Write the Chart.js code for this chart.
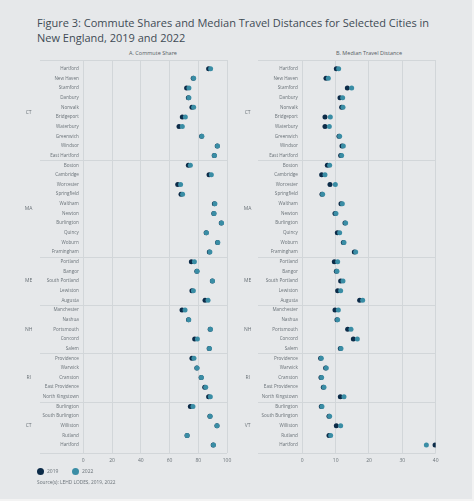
<!DOCTYPE html>
<html>
<head>
<meta charset="utf-8">
<script src="https://cdn.jsdelivr.net/npm/chart.js@4.4.1/dist/chart.umd.min.js"></script>
<style>
  body { margin: 0; width: 474px; height: 501px; background: #f3f3f3; font-family: 'Open Sans', sans-serif; overflow: hidden; }
  #fig { position: absolute; left: 0; top: 0; width: 472px; height: 499px; background: #e6e8ea; }
  #title { position: absolute; left: 37px; top: 15px; font-size: 11px; line-height: 15px; color: #3f4b55; white-space: nowrap; }
  .panel-title { position: absolute; top: 49px; font-size: 5.5px; color: #555d64; transform: translateX(-50%); white-space: nowrap; }
  canvas { position: absolute; }
  #legend { position: absolute; left: 37px; top: 467px; font-size: 5px; color: #6a7278; }
  .item { position: absolute; top: 0; white-space: nowrap; line-height: 8px; }
  .dot { display: inline-block; width: 7px; height: 7px; border-radius: 50%; vertical-align: middle; margin-right: 3px; }
  #source { position: absolute; left: 37px; top: 479px; font-size: 4.8px; color: #6a7278; }
</style>
</head>
<body>
<div id="fig">
  <div id="title">Figure 3: Commute Shares and Median Travel Distances for Selected Cities in<br>New England, 2019 and 2022</div>
  <div class="panel-title" style="left:153px">A. Commute Share</div>
  <div class="panel-title" style="left:369px">B. Median Travel Distance</div>
  <div style="position:absolute;left:22px;top:40px;width:218px;height:430px"><canvas id="shareChart"></canvas></div>
  <div style="position:absolute;left:241px;top:40px;width:207px;height:430px"><canvas id="distChart"></canvas></div>
  <div id="legend">
    <span class="item" style="left:0"><span class="dot" style="background:#0c2b48"></span>2019</span>
    <span class="item" style="left:35px"><span class="dot" style="background:#3a8da5"></span>2022</span>
  </div>
  <div id="source">Source(s): LEHD LODES, 2019, 2022</div>
</div>
<script>
const cities = [
    'Hartford', 'New Haven', 'Stamford', 'Danbury', 'Norwalk', 'Bridgeport', 'Waterbury', 'Greenwich', 'Windsor', 'East Hartford',
    'Boston', 'Cambridge', 'Worcester', 'Springfield', 'Waltham', 'Newton', 'Burlington', 'Quincy', 'Woburn', 'Framingham',
    'Portland', 'Bangor', 'South Portland', 'Lewiston', 'Augusta',
    'Manchester', 'Nashua', 'Portsmouth', 'Concord', 'Salem',
    'Providence', 'Warwick', 'Cranston', 'East Providence', 'North Kingstown',
    'Burlington', 'South Burlington', 'Williston', 'Rutland', 'Hartford'
];
const groupSizes = [10, 10, 5, 5, 5, 5];
// the left panel labels the Vermont group "CT", as in the original
const statesA = ['CT', 'MA', 'ME', 'NH', 'RI', 'CT'];
const statesB = ['CT', 'MA', 'ME', 'NH', 'RI', 'VT'];

// commute share (%)
const share2019 = [
    87.2, 76.5, 71.9, 73.1, 75.6, 68.9, 66.6, 82.3, 93.2, 91.1,
    73.1, 87.5, 65.7, 68.0, 91.2, 90.8, 96.0, 85.5, 93.4, 87.7,
    75.2, 79.0, 89.8, 75.6, 84.7,
    68.7, 73.2, 88.3, 77.5, 87.6,
    75.6, 79.0, 82.0, 84.5, 87.2,
    74.5, 88.1, 93.0, 72.2, 90.4
];
const share2022 = [
    88.6, 76.8, 73.5, 73.5, 76.8, 71.0, 68.9, 82.5, 93.4, 91.3,
    74.5, 89.1, 67.7, 69.1, 91.6, 91.0, 96.2, 85.7, 93.6, 88.1,
    77.3, 79.2, 89.9, 76.6, 86.8,
    70.8, 73.4, 88.5, 79.4, 87.8,
    77.0, 79.2, 82.2, 85.2, 88.4,
    76.3, 88.3, 93.1, 72.3, 90.6
];
// median travel distance (miles)
const dist2019 = [
    10.2, 7.1, 13.5, 11.3, 11.8, 6.8, 6.8, 11.0, 11.9, 11.5,
    7.5, 5.8, 8.3, 5.9, 11.6, 9.8, 12.8, 10.5, 12.3, 15.6,
    9.6, 10.2, 11.5, 10.6, 17.2,
    9.8, 10.4, 13.6, 15.3, 11.4,
    5.5, 7.0, 5.6, 6.3, 11.4,
    5.7, 8.0, 10.2, 8.0, 39.8
];
const dist2022 = [
    10.9, 7.8, 14.8, 12.1, 12.2, 8.4, 8.1, 11.2, 12.3, 11.8,
    8.2, 6.8, 9.9, 6.1, 12.0, 10.1, 13.0, 11.2, 12.5, 16.0,
    10.6, 10.4, 12.2, 11.5, 18.1,
    10.8, 10.6, 14.6, 16.5, 11.6,
    5.7, 7.2, 5.8, 6.5, 12.5,
    5.9, 8.2, 11.5, 8.5, 37.2
];
const shareTicks = [0, 20, 40, 60, 80, 100];
const distTicks = [0, 10, 20, 30, 40];

const color2019 = '#0c2b48';
const color2022 = '#3a8da5';
const gridColor = '#d2d6d9';
const labelColor = '#6a7278';

// row bounds and group midpoints from the group sizes
const rowMin = -0.9, rowMax = 39.85;
const bounds = [rowMin];
const mids = [];
let start = 0;
groupSizes.forEach(n => {
    mids.push(start + (n - 1) / 2);
    start += n;
    if (start < cities.length) bounds.push(start - 0.5);
});
bounds.push(rowMax);

const separators = {
    id: 'separators',
    beforeDatasetsDraw(chart, args, opts) {
        const ctx = chart.ctx;
        const y = chart.scales.y;
        const left = y.left + opts.inset;
        ctx.save();
        ctx.strokeStyle = gridColor;
        ctx.lineWidth = 1;
        bounds.forEach(b => {
            const py = Math.round(y.getPixelForValue(b)) + 0.5;
            ctx.beginPath();
            ctx.moveTo(left, py);
            ctx.lineTo(chart.chartArea.right, py);
            ctx.stroke();
        });
        ctx.restore();
    }
};

function points(values) {
    return values.map((v, i) => ({ x: v, y: i }));
}

function makeChart(id, v2019, v2022, ticks, states, inset, padRight) {
    const labelFont = { family: 'Open Sans', size: 4.6 };
    return new Chart(document.getElementById(id), {
        type: 'scatter',
        data: {
            datasets: [
                { label: '2019', data: points(v2019), backgroundColor: color2019, borderWidth: 0, pointRadius: 2.5, order: 2 },
                { label: '2022', data: points(v2022), backgroundColor: color2022, borderWidth: 0, pointRadius: 2.5, order: 1 }
            ]
        },
        options: {
            responsive: true,
            maintainAspectRatio: false,
            animation: false,
            layout: { padding: { top: 20, right: padRight, bottom: 0, left: 0 } },
            plugins: { legend: { display: false }, tooltip: { enabled: false }, separators: { inset: inset } },
            scales: {
                x: {
                    type: 'linear',
                    min: ticks[0],
                    max: ticks[ticks.length - 1],
                    afterBuildTicks: s => { s.ticks = ticks.map(v => ({ value: v })); },
                    afterFit: s => { s.height = 16.7; },
                    ticks: { color: labelColor, font: { family: 'Open Sans', size: 5 }, padding: 4 },
                    grid: { color: gridColor, drawTicks: false },
                    border: { display: false }
                },
                y: {
                    type: 'linear',
                    reverse: true,
                    min: rowMin,
                    max: rowMax,
                    weight: 0,
                    afterBuildTicks: s => { s.ticks = cities.map((c, i) => ({ value: i })); },
                    afterFit: s => { s.width = 47.3; },
                    ticks: { autoSkip: false, color: labelColor, font: labelFont, padding: 4.5, callback: v => cities[v] },
                    grid: { display: false, drawTicks: false },
                    border: { display: false }
                },
                state: {
                    type: 'linear',
                    axis: 'y',
                    position: 'left',
                    reverse: true,
                    min: rowMin,
                    max: rowMax,
                    weight: 1,
                    afterBuildTicks: s => { s.ticks = mids.map(m => ({ value: m })); },
                    afterFit: s => { s.width = 14; },
                    ticks: { autoSkip: false, crossAlign: 'center', color: labelColor, font: { family: 'Open Sans', size: 5 }, padding: 3.5,
                             callback: v => states[mids.indexOf(v)] },
                    grid: { display: false, drawTicks: false },
                    border: { display: false }
                }
            }
        },
        plugins: [separators]
    });
}

makeChart('shareChart', share2019, share2022, shareTicks, statesA, 4, 13);
makeChart('distChart', dist2019, dist2022, distTicks, statesB, 3, 12.3);
</script>
</body>
</html>
